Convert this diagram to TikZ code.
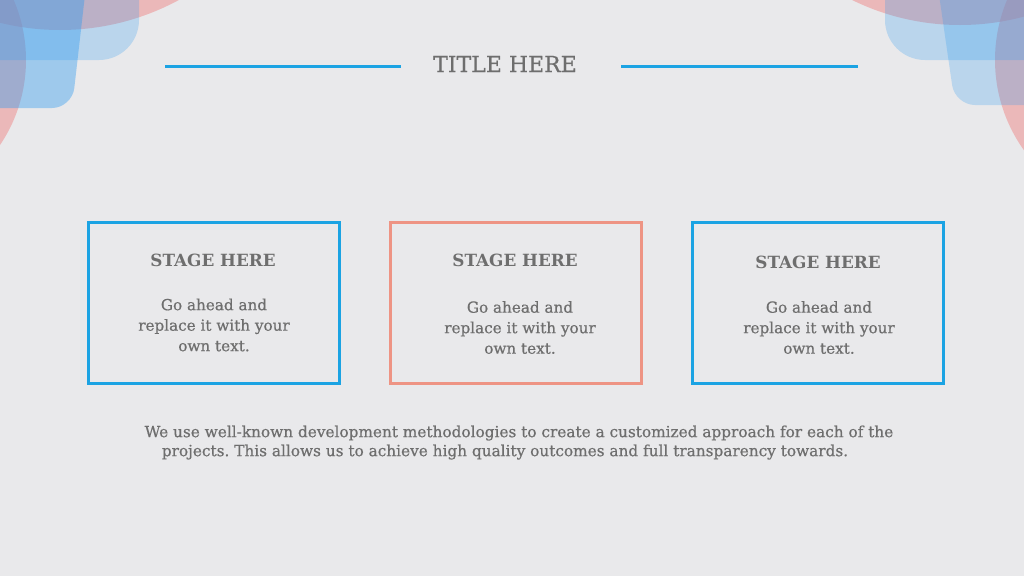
\documentclass[tikz,border=0pt]{standalone}
\usepackage{fontspec}
\setmainfont{DejaVu Serif}[UprightFeatures={FakeBold=0.6}]
\usepackage{xcolor}
\usepackage{tikz}
\usetikzlibrary{calc}
\frenchspacing

\definecolor{paper}{HTML}{E9E9EB}
\definecolor{sky}{HTML}{1BA3E3}
\definecolor{salmon}{HTML}{EE9484}
\definecolor{ink}{HTML}{6E6E6E}
\definecolor{rose}{HTML}{F07070}
\definecolor{azure}{HTML}{2E9BEF}

\tikzset{
	stagebox/.style={draw, line width=3pt, minimum width=251pt, minimum height=161pt, inner sep=0pt},
	headtext/.style={font=\fontsize{16.8}{19}\selectfont\bfseries, text=ink},
	bodytext/.style={font=\fontsize{15.2}{20.5}\selectfont, text=ink, align=center},
	notetext/.style={font=\fontsize{15.3}{19}\selectfont, text=ink},
	rosefill/.style={fill=rose, opacity=.4},
	azurefill/.style={fill=azure, opacity=.25},
	azuredeep/.style={fill=azure, opacity=.4}
}

\begin{document}
\begin{tikzpicture}[x=1pt,y=-1pt]
						\fill[paper] (0,0) rectangle (1024,576);
						\useasboundingbox (0,0) rectangle (1024,576);
						
						% corner rings
						\begin{scope}
							\clip (0,0) rectangle (1024,576);
							\fill[rosefill] (60,-220) circle (250pt);
							\fill[rosefill] (-126,60) circle (152pt);
							\fill[azurefill, rounded corners=40pt] (-40,-40) rectangle (139,60);
							\fill[azuredeep, rounded corners=20pt] (-40,-40) -- (89,-40) -- (72,108) -- (-40,108) -- cycle;
							\fill[rosefill] (960,-220) circle (245pt);
							\fill[rosefill] (1150,60) circle (155pt);
							\fill[azurefill, rounded corners=40pt] (885,-40) rectangle (1064,60);
							\fill[azurefill, rounded corners=20pt] (934,-40) -- (1064,-40) -- (1064,105) -- (955,105) -- cycle;
						\end{scope}
						
						\coordinate (T) at (505,64);
						\coordinate (L1) at (165,66);
						\coordinate (L2) at (401,66);
						\coordinate (R1) at (621,66);
						\coordinate (R2) at (858,66);
						
						\draw[sky, line width=3pt] (L1) -- (L2);
						\draw[sky, line width=3pt] (R1) -- (R2);
						\node (title) at (T) [font=\fontsize{22}{24}\selectfont, text=ink] {TITLE HERE};
						
						\node[stagebox, draw=sky] (box1) at (214,303) {};
						\node[stagebox, draw=salmon] (box2) at (516,303) {};
						\node[stagebox, draw=sky] (box3) at (818,303) {};
						
						\node (head1) at (213,260) [headtext] {STAGE HERE};
						\node (head2) at (515,260) [headtext] {STAGE HERE};
						\node (head3) at (818,262) [headtext] {STAGE HERE};
						
						\node (body1) at (214,325) [bodytext] {Go ahead and\\replace it with your\\own text.};
						\node (body2) at (520,327.5) [bodytext] {Go ahead and\\replace it with your\\own text.};
						\node (body3) at (819,327.5) [bodytext] {Go ahead and\\replace it with your\\own text.};
						
						\node (note1) at (519,433) [notetext] {We use well-known development methodologies to create a customized approach for each of the};
						\node (note2) at (505,452) [notetext] {projects. This allows us to achieve high quality outcomes and full transparency towards.};
					\end{tikzpicture}
\end{document}
